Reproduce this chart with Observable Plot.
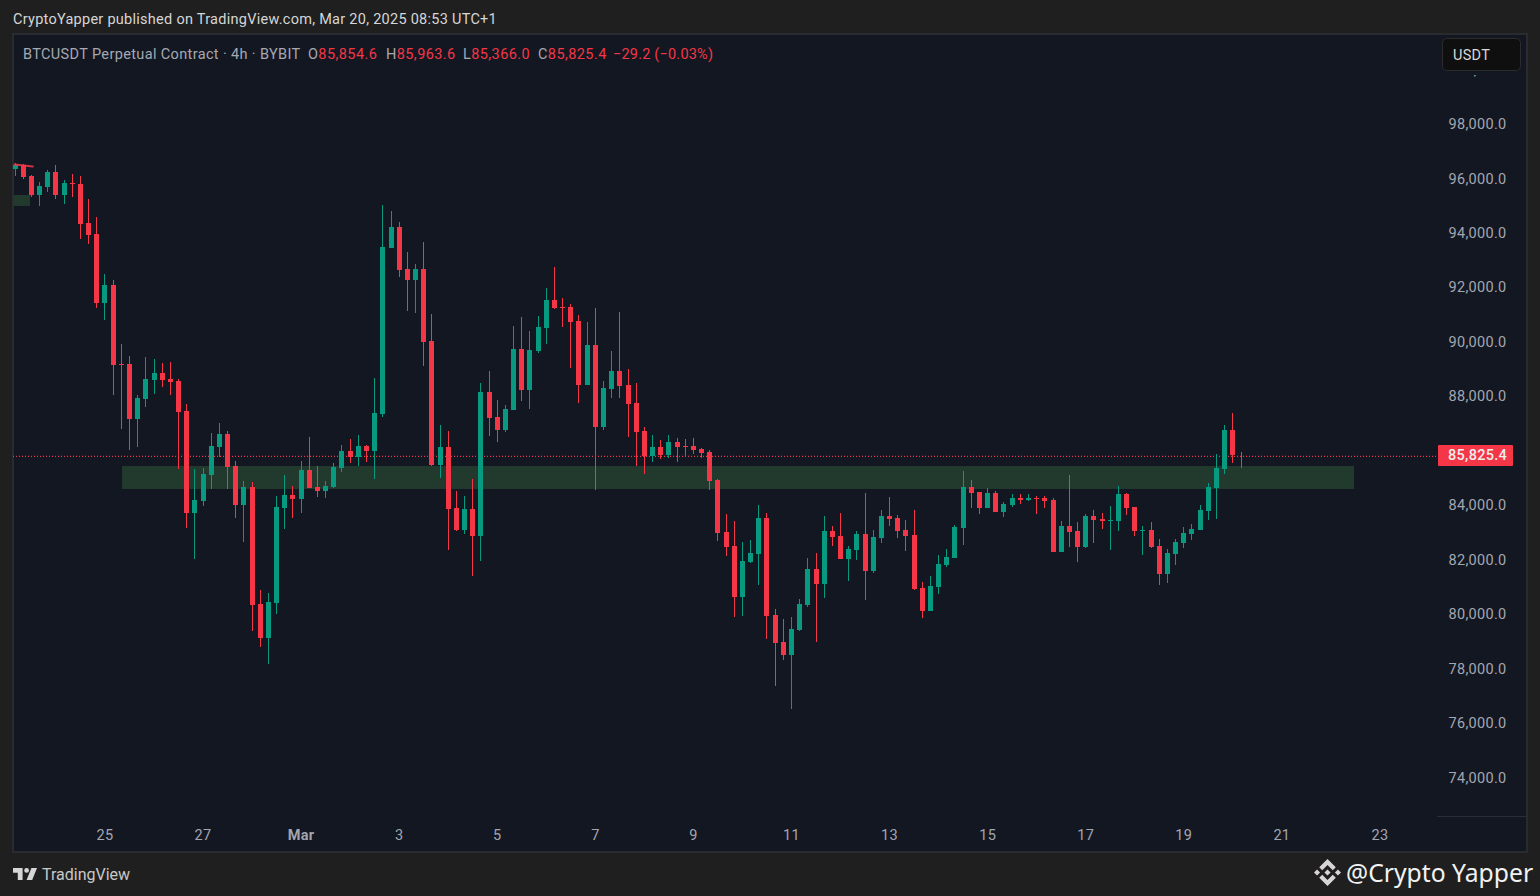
<!DOCTYPE html>
<html><head><meta charset="utf-8">
<script src="https://cdn.jsdelivr.net/npm/d3@7"></script>
<script src="https://cdn.jsdelivr.net/npm/@observablehq/plot@0.6"></script>
<style>
html,body{margin:0;padding:0;background:#1f1f1f;width:1540px;height:896px;overflow:hidden;font-family:Roboto,sans-serif}
.abs{position:absolute;white-space:nowrap}
#panel{left:12px;top:33px;width:1512px;height:816px;border:2px solid #2a2b2f;background:#131722}
#chart{position:absolute;left:0;top:0}
#chart svg{background:transparent!important;display:block}
.leg{top:46px;font-size:14.5px;line-height:17px;color:#a6a9b2;letter-spacing:.36px}
.r{color:#f53646;letter-spacing:.42px}
</style></head><body>
<div class="abs" id="panel"></div>
<div id="chart"></div>
<div class="abs" style="left:13px;top:11px;font-size:14.5px;line-height:17px;color:#d6d6d6;letter-spacing:.27px">CryptoYapper published on TradingView.com, Mar 20, 2025 08:53 UTC+1</div>
<div class="abs leg" style="left:23px">BTCUSDT Perpetual Contract · 4h · BYBIT</div>
<div class="abs leg" style="left:308px">O<span class="r">85,854.6</span></div>
<div class="abs leg" style="left:386px">H<span class="r">85,963.6</span></div>
<div class="abs leg" style="left:463px">L<span class="r">85,366.0</span></div>
<div class="abs leg" style="left:538px">C<span class="r">85,825.4</span></div>
<div class="abs leg" style="left:613px"><span class="r" style="letter-spacing:.2px">−29.2 (−0.03%)</span></div>
<div class="abs" style="left:1442px;top:71px;width:80px;height:4px;background:#131722"></div>
<div class="abs" style="left:1442px;top:38px;width:77px;height:31px;border:1.5px solid #2c2c2e;border-radius:5px;background:#0f0f0f;color:#d8d8d8;font-size:14.5px;line-height:33px;text-indent:10px;letter-spacing:.3px">USDT</div>
<div class="abs" style="left:1437px;top:816px;width:89px;height:1px;background:#2a2e39"></div>
<div class="abs" id="last" style="left:1438px;width:75px;height:21px;background:#f53646;color:#eee;font-size:14.5px;font-weight:500;line-height:21px;text-indent:10px;border-radius:1px;letter-spacing:.3px"></div>
<svg class="abs" style="left:13px;top:868px" width="24" height="12" viewBox="2 6 30 15"><path fill="#d6d6d6" d="M14 6H2v6h6v9h6V6Zm12 15h-7l6-15h7l-6 15Zm-7-9a3 3 0 1 0 0-6 3 3 0 0 0 0 6Z"/></svg>
<div class="abs" style="left:42px;top:865px;font-size:16px;line-height:19px;color:#c8c8c8">TradingView</div>
<svg class="abs" style="left:1314px;top:859px" width="27" height="27" viewBox="0 0 126.61 126.61"><g fill="#d8d4d8"><path d="M38.73 53.2l24.59-24.58 24.6 24.6 14.3-14.31L63.32 0 24.42 38.9z"/><path d="M0 63.31l14.3-14.31 14.31 14.31-14.31 14.3z"/><path d="M38.73 73.41l24.59 24.59 24.6-24.6 14.31 14.29-38.9 38.91-38.91-38.88z"/><path d="M98 63.31l14.3-14.31 14.31 14.3-14.31 14.32z"/><path d="M77.83 63.3L63.32 48.78 52.59 59.51l-1.24 1.23-2.54 2.54 14.51 14.5 14.51-14.47z"/></g></svg>
<div class="abs" style="left:1346px;top:856px;font-family:'Noto Sans',sans-serif;font-size:24.7px;line-height:34px;color:#f2f2f2">@Crypto Yapper</div>
<script>
const open_ = [96350,96490,96090,95390,95690,96240,95390,95830,95800,94360,93960,91430,92090,89190,89190,87160,87900,88600,88860,88630,88560,87460,83710,84150,85110,86140,86610,85440,84010,84670,80370,79120,80410,83900,84370,84230,85290,84670,84520,84670,85370,85990,85770,86170,85990,87350,93450,94220,92670,92270,92670,90030,85480,86140,83900,83090,83860,82870,88160,87240,86760,87500,89740,88230,89660,90510,91540,91280,91280,90760,88410,89880,86870,88270,88930,88410,87750,86720,85810,86140,85840,86320,86170,86170,86060,85950,84920,83010,82500,80630,81910,82210,83530,79970,78980,78500,79420,80330,81660,81100,83050,82870,82020,82350,82940,81580,82790,83600,83530,83090,82900,80960,80110,80990,81800,82060,83160,84670,84480,83900,84450,83750,84010,84260,84190,84260,84260,84190,82280,83240,83050,82460,83600,83490,83420,83420,84410,83930,83050,83090,82500,81470,82210,82610,82940,83090,83790,84630,85330,86760,85854.6];
const high = [96570,96530,96130,95870,96310,96490,95940,96160,96090,95250,94580,92490,92270,89920,89480,88050,89440,89370,89220,89260,88630,87720,85330,85370,86650,87020,86720,85620,84890,84850,80880,80770,84340,85110,84700,85620,86500,85440,84890,85550,86210,86430,86580,86210,88670,95020,94800,94400,93300,92860,93670,91020,86940,86720,84520,84340,84960,88490,88930,87860,87680,90580,90910,90400,90950,91980,92750,91610,91390,90980,90730,91240,88560,89660,91100,89000,88490,86870,86580,86390,86580,86470,86430,86470,86100,86030,84960,83680,83420,82650,82720,84010,83710,80190,79820,79890,80550,82060,82240,83600,83240,83710,82500,83050,84450,83090,83820,84300,83640,83460,83820,81180,81400,82170,82390,83270,85260,84920,84480,84630,84520,84120,84410,84410,84410,84340,84340,84260,83420,85110,83380,83680,83820,83710,83970,84700,84450,83930,83240,83380,82760,82390,82760,83200,83310,84010,84810,85880,86940,87390,85963.6];
const low = [96090,95980,95320,95000,95500,95250,95060,95320,93780,93590,91240,90800,88050,86800,86030,86140,87610,88080,88340,88050,85330,83160,82020,83970,84590,85770,84590,83530,82650,79380,78790,78170,80000,83120,83530,83710,84630,84300,84260,84630,85220,85550,85440,85590,84960,87240,93450,92380,91130,91060,89110,85440,85000,82350,83050,82940,81400,81950,86540,86320,86690,87500,87830,87530,89590,89920,91210,90540,89040,87750,88410,84560,86760,87940,87940,86500,85440,85150,85590,85700,85730,85590,85770,85880,85730,84560,82680,82130,79890,79930,81880,81070,79090,77360,78310,76510,79380,80260,78980,80590,82500,82020,81210,81990,80520,81510,82610,83240,82790,82320,80880,79860,80110,80740,81730,82060,82540,83900,83680,83900,83750,83570,83930,84040,84150,83680,83900,82280,82280,82460,81910,82430,82610,83120,82350,83050,83640,82870,82170,82430,81070,81140,81800,82430,82720,83090,83460,83490,85150,85550,85366.0];
const close_ = [96490,96050,95390,95720,96240,95390,95830,95800,94330,93920,91430,92090,89150,89150,87160,87940,88630,88860,88600,88520,87420,83710,84190,85150,86170,86610,85400,84010,84670,80330,79120,80440,83930,84370,84230,85290,84630,84520,84700,85400,85990,85770,86170,85990,87390,93480,94220,92640,92270,92670,89990,85480,86140,83860,83090,83860,82870,88160,87200,86760,87530,89740,88230,89700,90540,91540,91240,91240,90730,88410,89880,86870,88300,88930,88380,87720,86690,85810,86140,85840,86320,86140,86140,86030,85920,84890,82980,82460,80630,81950,82240,83530,79930,78940,78500,79450,80370,81660,81100,83050,82830,82020,82390,82940,81580,82830,83600,83490,83050,82870,80920,80110,81030,81840,82100,83200,84670,84450,83900,84450,83750,84040,84260,84190,84260,84230,84150,82280,83240,83010,82460,83600,83460,83420,83460,84410,83900,83050,83090,82460,81470,82240,82650,82980,83120,83820,84670,85370,86760,85850,85825.4];
const firstCandle = "2025-02-23T04:00:00Z";
const xDomain = ["2025-02-23T03:14:00Z","2025-03-24T04:10:00Z"];
const yDomain = [72546,101269];
const yTicks = [74000,76000,78000,80000,82000,84000,86000,88000,90000,92000,94000,96000,98000,100000];
const dayTickDates = ["2025-02-25","2025-02-27","2025-03-03","2025-03-05","2025-03-07","2025-03-09","2025-03-11","2025-03-13","2025-03-15","2025-03-17","2025-03-19","2025-03-21","2025-03-23"];
const dayTickLabels = ["25","27","3","5","7","9","11","13","15","17","19","21","23"];
const monthTickDates = ["2025-03-01"];
const monthTickLabels = ["Mar"];
const zoneStart = ["2025-02-25T08:36:00Z","2025-02-23T03:14:00Z"];
const zoneEnd = ["2025-03-22T11:34:00Z","2025-02-23T11:34:00Z"];
const zoneTop = [85438,95392];
const zoneBottom = [84594,94988];
const strokeTimes = ["2025-02-23T03:50:00Z","2025-02-23T12:40:00Z"];
const strokePrices = [96530,96460];
const lastPrice = 85825.4;

const GREEN="#089981", RED="#f53646", AXIS="#a3a6af";
const H4=4*3600e3, t0=+new Date(firstCandle);
const candles = open_.map((o,i)=>({t:new Date(t0+i*H4),o,h:high[i],l:low[i],c:close_[i]}));
const zones = zoneStart.map((s,i)=>({x1:new Date(s),x2:new Date(zoneEnd[i]),y1:zoneTop[i],y2:zoneBottom[i]}));
const stroke = strokeTimes.map((s,i)=>({t:new Date(s),p:strokePrices[i]}));
const col = d=>d.c>=d.o?GREEN:RED;
const days = dayTickDates.map(d=>new Date(d+"T00:00:00Z"));
const months = monthTickDates.map(d=>new Date(d+"T00:00:00Z"));
const dayFmt = new Map(days.map((d,i)=>[+d,dayTickLabels[i]]));
const font = {fontSize:14.5, fontFamily:"Roboto,sans-serif", fill:AXIS};

const plot = Plot.plot({
  width:1540,height:896,
  marginLeft:13,marginRight:103,marginTop:35,marginBottom:79,
  style:{background:"transparent",color:AXIS,fontFamily:"Roboto,sans-serif"},
  x:{type:"utc",domain:xDomain.map(d=>new Date(d)),axis:null},
  y:{type:"linear",domain:yDomain,axis:null},
  marks:[
    Plot.rect(zones,{x1:"x1",x2:"x2",y1:"y1",y2:"y2",fill:"#213a2d"}),
    Plot.ruleY([lastPrice],{stroke:RED,strokeWidth:1.2,strokeDasharray:"1 2",dy:0.5}),
    Plot.ruleX(candles,{x:"t",y1:"l",y2:"h",stroke:col,strokeWidth:1,shapeRendering:"crispEdges"}),
    Plot.ruleX(candles,{x:"t",y1:"o",y2:"c",stroke:col,strokeWidth:5,shapeRendering:"crispEdges"}),
    Plot.line(stroke,{x:"t",y:"p",stroke:RED,strokeWidth:2,strokeOpacity:0.85}),
    Plot.axisY(yTicks,{anchor:"right",tickSize:0,tickPadding:11,tickFormat:d3.format(",.1f"),...font}),
    Plot.axisX(days,{anchor:"bottom",tickSize:0,tickPadding:12,tickFormat:d=>dayFmt.get(+d),...font}),
    Plot.axisX(months,{anchor:"bottom",tickSize:0,tickPadding:12,tickFormat:()=>monthTickLabels[0],fontWeight:"bold",...font})
  ]
});
document.getElementById("chart").appendChild(plot);
plot.querySelectorAll('[aria-label="y-axis tick label"], [aria-label="x-axis tick label"]').forEach(g=>g.style.letterSpacing="0.3px");
const yy=plot.scale("y").apply(lastPrice);
const last=document.getElementById("last");
last.style.top=(yy-10.5)+"px";
last.textContent=d3.format(",.1f")(lastPrice);
</script>
</body></html>
